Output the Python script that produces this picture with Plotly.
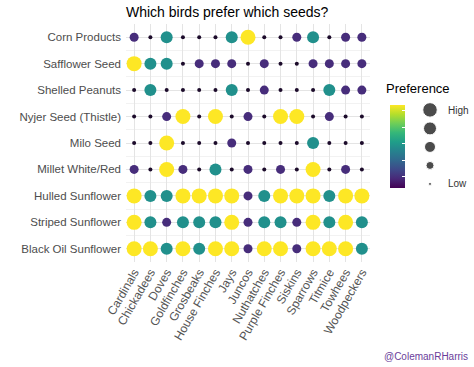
import plotly.graph_objects as go

birds = ["Cardinals", "Chickadees", "Doves", "Goldfinches", "Grosbeaks",
         "House Finches", "Jays", "Juncos", "Nuthatches", "Purple Finches",
         "Siskins", "Sparrows", "Titmice", "Towhees", "Woodpeckers"]

# bottom to top
seeds = ["Black Oil Sunflower", "Striped Sunflower", "Hulled Sunflower",
         "Millet White/Red", "Milo Seed", "Nyjer Seed (Thistle)",
         "Shelled Peanuts", "Safflower Seed", "Corn Products"]

# preference level per bird (0 = low ... 3 = high)
black_oil = [3, 3, 2, 3, 2, 3, 3, 1, 3, 3, 1, 3, 3, 3, 2]
striped   = [3, 2, 1, 2, 2, 2, 3, 1, 2, 2, 1, 3, 2, 3, 2]
hulled    = [3, 2, 2, 3, 3, 3, 3, 1, 2, 3, 3, 3, 2, 3, 3]
millet    = [1, 0, 3, 1, 0, 2, 0, 1, 0, 1, 0, 3, 0, 1, 0]
milo      = [0, 0, 3, 0, 0, 0, 1, 0, 0, 0, 0, 2, 0, 0, 0]
nyjer     = [0, 0, 1, 3, 0, 3, 0, 1, 0, 3, 3, 0, 1, 0, 0]
peanuts   = [0, 2, 0, 0, 0, 0, 2, 0, 1, 0, 0, 0, 2, 1, 1]
safflower = [3, 2, 2, 0, 1, 1, 1, 0, 1, 0, 0, 1, 1, 1, 1]
corn      = [1, 0, 2, 0, 0, 0, 2, 3, 0, 0, 1, 2, 0, 1, 1]

rows = [black_oil, striped, hulled, millet, milo, nyjer, peanuts, safflower, corn]

level_size = {0: 4, 1: 9, 2: 12, 3: 15}
level_color = {0: "#1c0b2b", 1: "#472d7b", 2: "#21908c", 3: "#fde725"}

legend_sizes = [3, 8, 11, 13, 14.5]  # low -> high

xs, ys, sz, cl = [], [], [], []
for j, row in enumerate(rows):
    for i, v in enumerate(row):
        xs.append(i)
        ys.append(j)
        sz.append(level_size[v])
        cl.append(level_color[v])

fig = go.Figure()
fig.add_trace(go.Scatter(
    x=xs, y=ys, mode="markers",
    marker=dict(size=sz, color=cl, line=dict(width=0), opacity=1),
    hoverinfo="skip", showlegend=False))

W, H = 474, 367
ml, mr, mt, mb = 126, 4, 24, 105
pw = W - ml - mr
ph = H - mt - mb

# colorbar carrier
fig.add_trace(go.Scatter(
    x=[None], y=[None], mode="markers",
    marker=dict(color=[0, 3], cmin=0, cmax=3, colorscale="Viridis",
                showscale=True,
                colorbar=dict(x=(390 - ml) / pw, xanchor="left",
                              y=(262 - 146.5) / ph, yanchor="middle",
                              thickness=15, len=83, lenmode="pixels",
                              xpad=0, ypad=0,
                              outlinewidth=0, showticklabels=False,
                              ticks="inside", tickcolor="white", ticklen=3,
                              tickvals=[0.4, 1.0, 1.6, 2.2, 2.8], title=None)),
    hoverinfo="skip", showlegend=False))

# size legend
fig.add_trace(go.Scatter(
    x=[0] * len(legend_sizes), y=list(range(len(legend_sizes))),
    xaxis="x2", yaxis="y2", mode="markers",
    marker=dict(size=legend_sizes, color="black"),
    hoverinfo="skip", showlegend=False))

fig.update_layout(
    width=W, height=H,
    margin=dict(l=ml, r=mr, t=mt, b=mb),
    paper_bgcolor="white", plot_bgcolor="white",
    font=dict(family="Liberation Sans, Arial, sans-serif", color="#4d4d4d", size=12),
    title=dict(text="Which birds prefer which seeds?", x=0, xref="paper", xanchor="left",
               y=1 - 12 / H, yref="container", yanchor="middle",
               font=dict(size=14, color="black")),
    xaxis=dict(domain=[0, (370 - ml) / pw], range=[-0.5, len(birds) - 0.5],
               tickmode="array", tickvals=list(range(len(birds))), ticktext=birds,
               tickangle=-60, showgrid=True, gridcolor="#e4e4e4", gridwidth=1,
               zeroline=False, showline=False, ticks="", fixedrange=True,
               tickfont=dict(size=12, color="#555555")),
    yaxis=dict(range=[-0.5, len(seeds) - 0.5],
               tickmode="array", tickvals=list(range(len(seeds))), ticktext=seeds,
               showgrid=True, gridcolor="#e4e4e4", gridwidth=1,
               minor=dict(tickvals=[k + 0.5 for k in range(-1, len(seeds))],
                          showgrid=True, gridcolor="#f2f2f2", gridwidth=1, ticks=""),
               zeroline=False, showline=False, ticks="", fixedrange=True,
               ticklabelstandoff=4,
               tickfont=dict(size=11.5, color="#4d4d4d")),
    xaxis2=dict(domain=[(420 - ml) / pw, (440 - ml) / pw], range=[-1, 1],
                visible=False, anchor="y2", fixedrange=True),
    yaxis2=dict(domain=[0.289, 0.678], range=[-0.5, 4.5],
                visible=False, anchor="x2", fixedrange=True),
    showlegend=False,
)

fig.add_annotation(text="Preference", xref="paper", yref="paper",
                   x=(384 - ml) / pw, y=(262 - 88) / ph, xanchor="left", yanchor="middle",
                   showarrow=False, font=dict(size=13, color="black"))
fig.add_annotation(text="High", xref="paper", yref="paper",
                   x=(446 - ml) / pw, y=(262 - 110) / ph, xanchor="left", yanchor="middle",
                   showarrow=False, font=dict(size=10, color="#333333"))
fig.add_annotation(text="Low", xref="paper", yref="paper",
                   x=(446 - ml) / pw, y=(262 - 183) / ph, xanchor="left", yanchor="middle",
                   showarrow=False, font=dict(size=10, color="#333333"))
fig.add_annotation(text="@ColemanRHarris", xref="paper", yref="paper",
                   x=1, y=(262 - 356) / ph, xanchor="right", yanchor="middle",
                   showarrow=False, font=dict(size=10, color="#6a3d9a"))

fig.write_html("out.html", config={"displayModeBar": False},
               post_script="document.body.style.margin='0';document.body.style.padding='0';")
